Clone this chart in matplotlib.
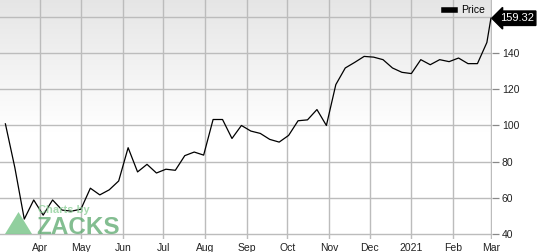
import numpy as np
import pandas as pd
import matplotlib
matplotlib.use("Agg")
import matplotlib.pyplot as plt
import matplotlib.dates as mdates
from matplotlib.patches import Polygon

plt.rcParams['font.family'] = ['Liberation Sans', 'DejaVu Sans']

# weekly (Friday) closes plus the last quote
dates = list(pd.date_range("2020-03-06", "2021-02-26", freq="7D")) + [pd.Timestamp("2021-03-01")]
prices = [100.9, 76.7, 48.2, 58.8, 50.4, 58.8, 53.2, 52.6, 53.7, 65.3,
          61.6, 64.4, 69.3, 87.7, 74.3, 78.5, 73.7, 75.8, 75.2, 83.3,
          85.3, 83.6, 103.3, 103.3, 92.8, 100.0, 96.9, 95.6, 92.3, 90.8,
          94.5, 102.6, 103.1, 108.8, 100.0, 122.6, 131.8, 134.9, 138.2, 137.8,
          136.4, 131.8, 129.4, 128.7, 136.4, 133.6, 136.4, 135.3, 137.3, 134.2,
          134.2, 145.9, 159.32]
month_ticks = pd.date_range("2020-04-01", "2021-03-01", freq="MS")
month_labels = ["Apr", "May", "Jun", "Jul", "Aug", "Sep", "Oct", "Nov", "Dec", "2021", "Feb", "Mar"]
y_ticks = [40, 60, 80, 100, 120, 140]
y_grid = [40, 60, 80, 100, 120, 140, 160]
series_name = "Price"
last_label = "159.32"

W, H = 538, 252
fig = plt.figure(figsize=(W / 100, H / 100), dpi=100, facecolor='white')
rect = [0 / W, 1 - 239 / H, 492 / W, 239 / H]
ax = fig.add_axes(rect)
ax.set_facecolor('white')

x0 = mdates.date2num(pd.Timestamp("2020-03-02"))
x1 = mdates.date2num(pd.Timestamp("2021-03-01"))
ax.set_xlim(x0, x1 + 0.8)
ax.set_ylim(37.2, 169.4)

# background gradient (top light gray -> white)
g = np.linspace(0, 1, 200)
col = np.clip(0.90 + 0.10 * (g / 0.55), 0, 1)
img = np.dstack([col, col, col]).reshape(200, 1, 3)
ax.imshow(img, extent=[0, 1, 0, 1], transform=ax.transAxes, aspect='auto',
          origin='upper', zorder=0, interpolation='bilinear')
ax.set_xlim(x0, x1 + 0.8)
ax.set_ylim(37.2, 169.4)

for s in ax.spines.values():
    s.set_visible(False)

# grid lines
for d in mdates.date2num(month_ticks):
    ax.axvline(d, color='#bcbcbc', linewidth=1.0, zorder=2)
for v in y_grid:
    ax.axhline(v, color='#bcbcbc', linewidth=1.0, zorder=2)

ax.set_xticks(mdates.date2num(month_ticks))
ax.set_xticklabels(month_labels)
ax.set_yticks(y_ticks)
ax.set_yticklabels([str(v) for v in y_ticks])
ax.yaxis.tick_right()
ax.tick_params(axis='x', length=0, pad=3, labelsize=7.5, colors='#222222')
ax.tick_params(axis='y', length=5, width=0.9, color='#888888', pad=2, labelsize=7.5, labelcolor='#222222')

ax.plot(mdates.date2num(dates), prices, color='black', linewidth=0.9, zorder=3, label=series_name)

# Zacks watermark
fig.text(38 / W, 1 - 213 / H, "Charts by", fontsize=8, color='#8fd09a', alpha=0.8, fontweight='bold')
fig.text(36 / W, 1 - 234 / H, "ZACKS", fontsize=17.5, color='#5aa86c', alpha=0.75, fontweight='bold')
tri = Polygon([[5 / W, 1 - 234 / H], [32 / W, 1 - 234 / H], [18.5 / W, 1 - 212 / H]],
              closed=True, transform=fig.transFigure, facecolor='#6cc07e', alpha=0.75, edgecolor='none')
fig.patches.append(tri)

# legend
leg = ax.legend(loc='upper right', bbox_to_anchor=(1.0, 1.01), frameon=False, fontsize=7.5,
                handlelength=1.0, handleheight=0.5, handletextpad=0.6, borderaxespad=0.3)
for h in leg.legend_handles:
    h.set_linewidth(4)

# last value label
yl = prices[-1]
ax.annotate(last_label, xy=(1.0, yl), xycoords=('axes fraction', 'data'),
            xytext=(5.5, 0), textcoords='offset points', ha='left', va='center',
            fontsize=8, color='white', annotation_clip=False,
            bbox=dict(boxstyle='larrow,pad=0.2', fc='black', ec='black'))

fig.savefig("out.png", dpi=100)
